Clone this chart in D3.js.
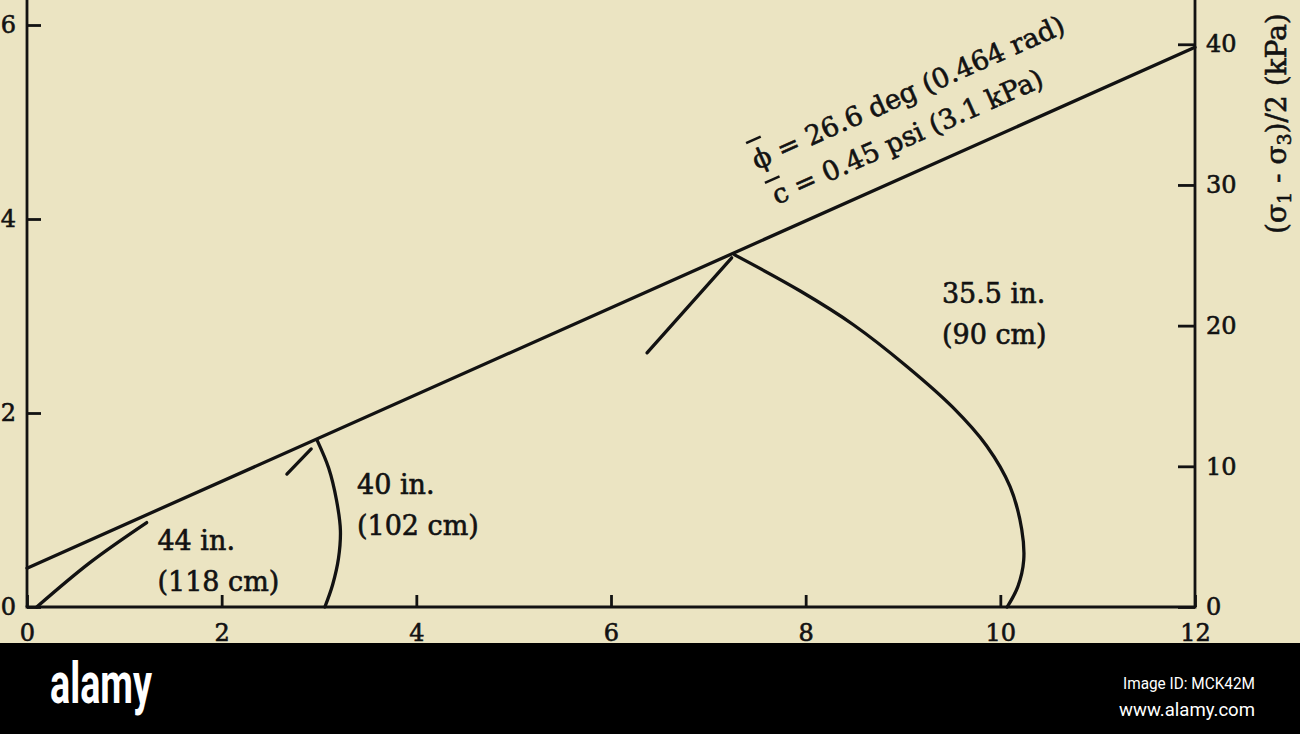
<!DOCTYPE html>
<html><head><meta charset="utf-8">
<script src="https://cdn.jsdelivr.net/npm/d3@7/dist/d3.min.js"></script>
<style>
body{margin:0;background:#ebe4c2;}
svg{display:block}
</style></head><body>
<svg id="c" width="1300" height="734"></svg>
<script>
// ---- data (p = (σ1+σ3)/2 psi, q = (σ1-σ3)/2 psi) ----
const xTicks = [0, 2, 4, 6, 8, 10, 12];
const yTicksPsi = [0, 2, 4, 6];
const yTicksKPa = [0, 10, 20, 30, 40];
const envelope = [[0, 0.40], [12, 5.77]];
const path44 = [[0.10, 0], [0.65, 0.46], [1.23, 0.87]];
const arrow40 = [[2.67, 1.37], [2.92, 1.63]];
const path40 = [[2.98, 1.72], [3.10, 1.43], [3.18, 1.10], [3.22, 0.79], [3.20, 0.50], [3.14, 0.23], [3.06, 0]];
const arrow35 = [[6.37, 2.62], [7.24, 3.60]];
const path35 = [[7.27, 3.63], [7.94, 3.26], [8.49, 2.91], [9.04, 2.48], [9.51, 2.06], [9.86, 1.66], [10.10, 1.24], [10.22, 0.80], [10.24, 0.48], [10.18, 0.21], [10.07, 0]];
const depthLabels = [["44 in.", "(118 cm)"], ["40 in.", "(102 cm)"], ["35.5 in.", "(90 cm)"]];
const depthAnchors = [[1.34, 0.59], [3.39, 1.16], [9.40, 3.13]];
const envelopeText = ["ϕ = 26.6 deg (0.464 rad)", "c = 0.45 psi (3.1 kPa)"];
const psiToKPa = 6.895;

const svg = d3.select("#c");
const W = 1300, H = 734;
svg.append("rect").attr("width", W).attr("height", H).attr("fill", "#ebe4c2");

const x = d3.scaleLinear().domain([0, 12]).range([27, 1195]);
const y = d3.scaleLinear().domain([0, 6]).range([607, 25]);
const yK = d3.scaleLinear().domain([0, 6 * psiToKPa]).range([607, 25]);

const ink = "#121212";
const font = "'DejaVu Serif', serif";
function txt(sel, size) {
  return sel.attr("fill", ink).attr("stroke", ink).attr("stroke-width", 0.6)
    .style("font-family", font).style("font-size", size + "px");
}

// axes frame lines
const frame = svg.append("g").attr("stroke", ink).attr("stroke-width", 2.8).attr("fill", "none");
frame.append("line").attr("x1", x(0)).attr("x2", x(0)).attr("y1", 0).attr("y2", y(0));
frame.append("line").attr("x1", x(12)).attr("x2", x(12)).attr("y1", 0).attr("y2", y(0));
frame.append("line").attr("x1", x(0) - 1.4).attr("x2", x(12) + 1.4).attr("y1", y(0)).attr("y2", y(0));

function styleAxis(g) {
  g.select(".domain").remove();
  g.selectAll(".tick line").attr("stroke", ink).attr("stroke-width", 2.8);
  txt(g.selectAll(".tick text"), 24);
}

svg.append("g").attr("transform", `translate(${x(0)},0)`)
  .call(d3.axisLeft(y).tickValues(yTicksPsi).tickSizeInner(-14).tickSizeOuter(0).tickPadding(11).tickFormat(d3.format("d")))
  .call(styleAxis);

svg.append("g").attr("transform", `translate(0,${y(0)})`)
  .call(d3.axisBottom(x).tickValues(xTicks).tickSizeInner(-12).tickSizeOuter(0).tickPadding(17).tickFormat(d3.format("d")))
  .call(styleAxis);

svg.append("g").attr("transform", `translate(${x(12)},0)`)
  .call(d3.axisRight(yK).tickValues(yTicksKPa).tickSizeInner(-17).tickSizeOuter(0).tickPadding(11).tickFormat(d3.format("d")))
  .call(styleAxis);

// curves
const straight = d3.line().x(d => x(d[0])).y(d => y(d[1]));
const smooth = d3.line().x(d => x(d[0])).y(d => y(d[1])).curve(d3.curveCatmullRom.alpha(0.5));
const marks = svg.append("g").attr("stroke", ink).attr("stroke-width", 3.3).attr("fill", "none").attr("stroke-linecap", "round");
marks.append("path").attr("d", straight(envelope));
marks.append("path").attr("d", smooth(path44));
marks.append("path").attr("d", straight(arrow40));
marks.append("path").attr("d", smooth(path40));
marks.append("path").attr("d", straight(arrow35));
marks.append("path").attr("d", smooth(path35));

// depth labels
depthLabels.forEach((lines, i) => {
  const t = txt(svg.append("text").attr("x", x(depthAnchors[i][0])).attr("y", y(depthAnchors[i][1])), 27);
  lines.forEach((s, j) => t.append("tspan").attr("x", x(depthAnchors[i][0])).attr("dy", j ? 41 : 0).text(s));
});

// envelope parameters, rotated along the line
const g = svg.append("g").attr("transform", "translate(757,170) rotate(-24)");
txt(g.append("text").attr("x", 0).attr("y", 0), 27).text(envelopeText[0]);
txt(g.append("text").attr("x", 4).attr("y", 40), 27).text(envelopeText[1]);
g.append("line").attr("x1", 1).attr("x2", 17).attr("y1", -29).attr("y2", -29).attr("stroke", ink).attr("stroke-width", 2.6);
g.append("line").attr("x1", 2).attr("x2", 18).attr("y1", 15).attr("y2", 15).attr("stroke", ink).attr("stroke-width", 2.6);

// right axis title
const rt = txt(svg.append("text").attr("transform", "translate(1286,234) rotate(-90)"), 28);
rt.append("tspan").text("(σ");
rt.append("tspan").attr("dy", 5).style("font-size", "19px").text("1");
rt.append("tspan").attr("dy", -5).text(" - σ");
rt.append("tspan").attr("dy", 5).style("font-size", "19px").text("3");
rt.append("tspan").attr("dy", -5).text(")/2 (kPa)");

// stock-photo footer band
svg.append("rect").attr("x", 0).attr("y", 643).attr("width", W).attr("height", 91).attr("fill", "#000");
svg.append("text").attr("x", 50).attr("y", 703).attr("fill", "#fff")
  .attr("textLength", 102).attr("lengthAdjust", "spacingAndGlyphs")
  .style("font-family", "'Liberation Sans Narrow','Roboto',sans-serif").style("font-weight", "bold").style("font-size", "58px").text("alamy");
svg.append("text").attr("x", 1255).attr("y", 689).attr("text-anchor", "end").attr("fill", "#fff")
  .attr("textLength", 132).attr("lengthAdjust", "spacingAndGlyphs")
  .style("font-family", "'Liberation Sans Narrow','Roboto',sans-serif").style("font-size", "16px").text("Image ID: MCK42M");
svg.append("text").attr("x", 1255).attr("y", 716).attr("text-anchor", "end").attr("fill", "#fff")
  .attr("textLength", 136).attr("lengthAdjust", "spacingAndGlyphs")
  .style("font-family", "'Liberation Sans Narrow','Roboto',sans-serif").style("font-size", "18px").text("www.alamy.com");
</script>
</body></html>
